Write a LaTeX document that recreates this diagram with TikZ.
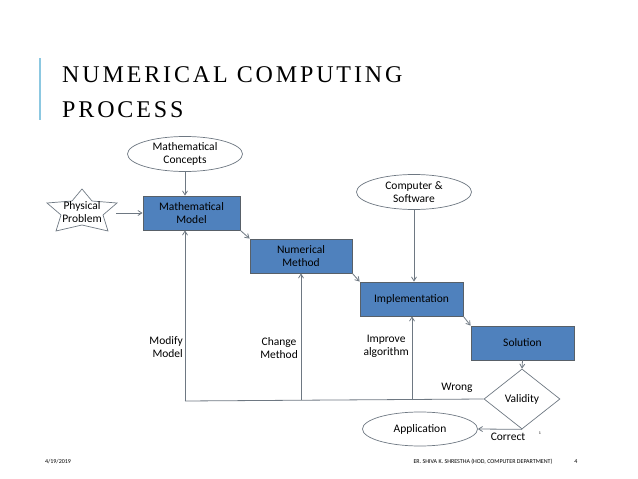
\documentclass[tikz,border=0pt]{standalone}
\usepackage{fontspec}
\setmainfont{Carlito}
\newfontfamily\titlefont[LetterSpace=12]{Liberation Serif}
\usetikzlibrary{shapes.geometric,arrows.meta}
\definecolor{boxblue}{RGB}{79,129,189}
\definecolor{linec}{RGB}{110,120,130}
\definecolor{barc}{RGB}{140,200,225}
\begin{document}
\begin{tikzpicture}[x=1pt,y=-1pt,
  box/.style={draw=linec!80!black,fill=boxblue,line width=0.8pt,minimum height=34pt,align=center,font=\fontsize{11.5}{13}\selectfont,inner sep=1pt},
  ell/.style={ellipse,draw=linec,line width=0.7pt,minimum width=115pt,minimum height=35pt,align=center,font=\fontsize{11.5}{13}\selectfont,inner sep=0pt},
  arr/.style={draw=linec,line width=0.8pt,-{Straight Barb[length=4pt,width=5pt]}},
  lbl/.style={font=\fontsize{11.5}{13}\selectfont,align=center,inner sep=0pt}]
\useasboundingbox (0,0) rectangle (638,479);
\fill[barc] (39,58) rectangle (41,120);
\node[anchor=base west,inner sep=0pt,font=\titlefont\fontsize{24}{26}\selectfont] (t1) at (62,82) {NUMERICAL COMPUTING};
\node[anchor=base west,inner sep=0pt,font=\titlefont\fontsize{24}{26}\selectfont] (t2) at (62,117) {PROCESS};
\node[ell] (mc) at (185,154) {Mathematical\\Concepts};
\draw[draw=linec,line width=0.7pt,fill=white] (82,189) -- (92,201) -- (117,203) -- (103,215) -- (108,231) -- (82,225) -- (56,231) -- (61,215) -- (47,203) -- (72,201) -- cycle;
\node[lbl] (pp) at (82,212) {Physical\\Problem};
\node[box,minimum width=97pt] (mm) at (191.5,213) {Mathematical\\Model};
\node[box,minimum width=102pt] (nm) at (301,256) {Numerical\\Method};
\node[ell] (cs) at (414,192) {Computer \&\\Software};
\node[box,minimum width=103pt] (im) at (411.5,299) {Implementation};
\node[box,minimum width=103pt] (so) at (522.5,343) {Solution};
\node[diamond,aspect=1.27,draw=linec,line width=0.7pt,minimum width=76pt,minimum height=60pt,lbl] (va) at (522,399) {Validity};
\node[ell,minimum height=34pt] (ap) at (420,429) {Application};
\draw[arr] (mc) -- (mc.south|-mm.north);
\draw[arr] (116,213) -- (mm.west);
\draw[arr] (mm.south east) -- (nm.north west);
\draw[arr] (nm.south east) -- (im.north west);
\draw[arr] (im.south east) -- (so.north west);
\draw[arr] (cs.south) -- (cs.south|-im.north);
\draw[arr] (so.south) -- (va.north);
\coordinate (f1) at (185,401);
\coordinate (f2) at (301,400);
\coordinate (f3) at (412,400);
\draw[draw=linec,line width=0.8pt] (va.west) -- (f1);
\draw[arr] (f1) -- (f1|-mm.south);
\draw[arr] (f2) -- (f2|-nm.south);
\draw[arr] (f3) -- (f3|-im.south);
\draw[arr] (va.south) -- (ap.east);
\node[lbl,align=right,anchor=east] (l1) at (183,347) {Modify\\Model};
\node[lbl,anchor=east] (l2) at (298,348) {Change\\Method};
\node[lbl,anchor=east] (l3) at (409,346) {Improve\\algorithm};
\node[lbl] (l4) at (457,388) {Wrong};
\node[lbl] (l5) at (508,437) {Correct};
\node[inner sep=0pt,font=\fontsize{4}{5}\selectfont] (l6) at (540,433) {1};
\node[inner sep=0pt,font=\fontsize{6}{7}\selectfont] (d) at (58,462) {4/19/2019};
\node[inner sep=0pt,font=\fontsize{6}{7}\selectfont] (a) at (483,462) {ER. SHIVA K. SHRESTHA (HOD, COMPUTER DEPARTMENT)};
\node[inner sep=0pt,font=\fontsize{6}{7}\selectfont] (p) at (576,462) {4};
\end{tikzpicture}
\end{document}
